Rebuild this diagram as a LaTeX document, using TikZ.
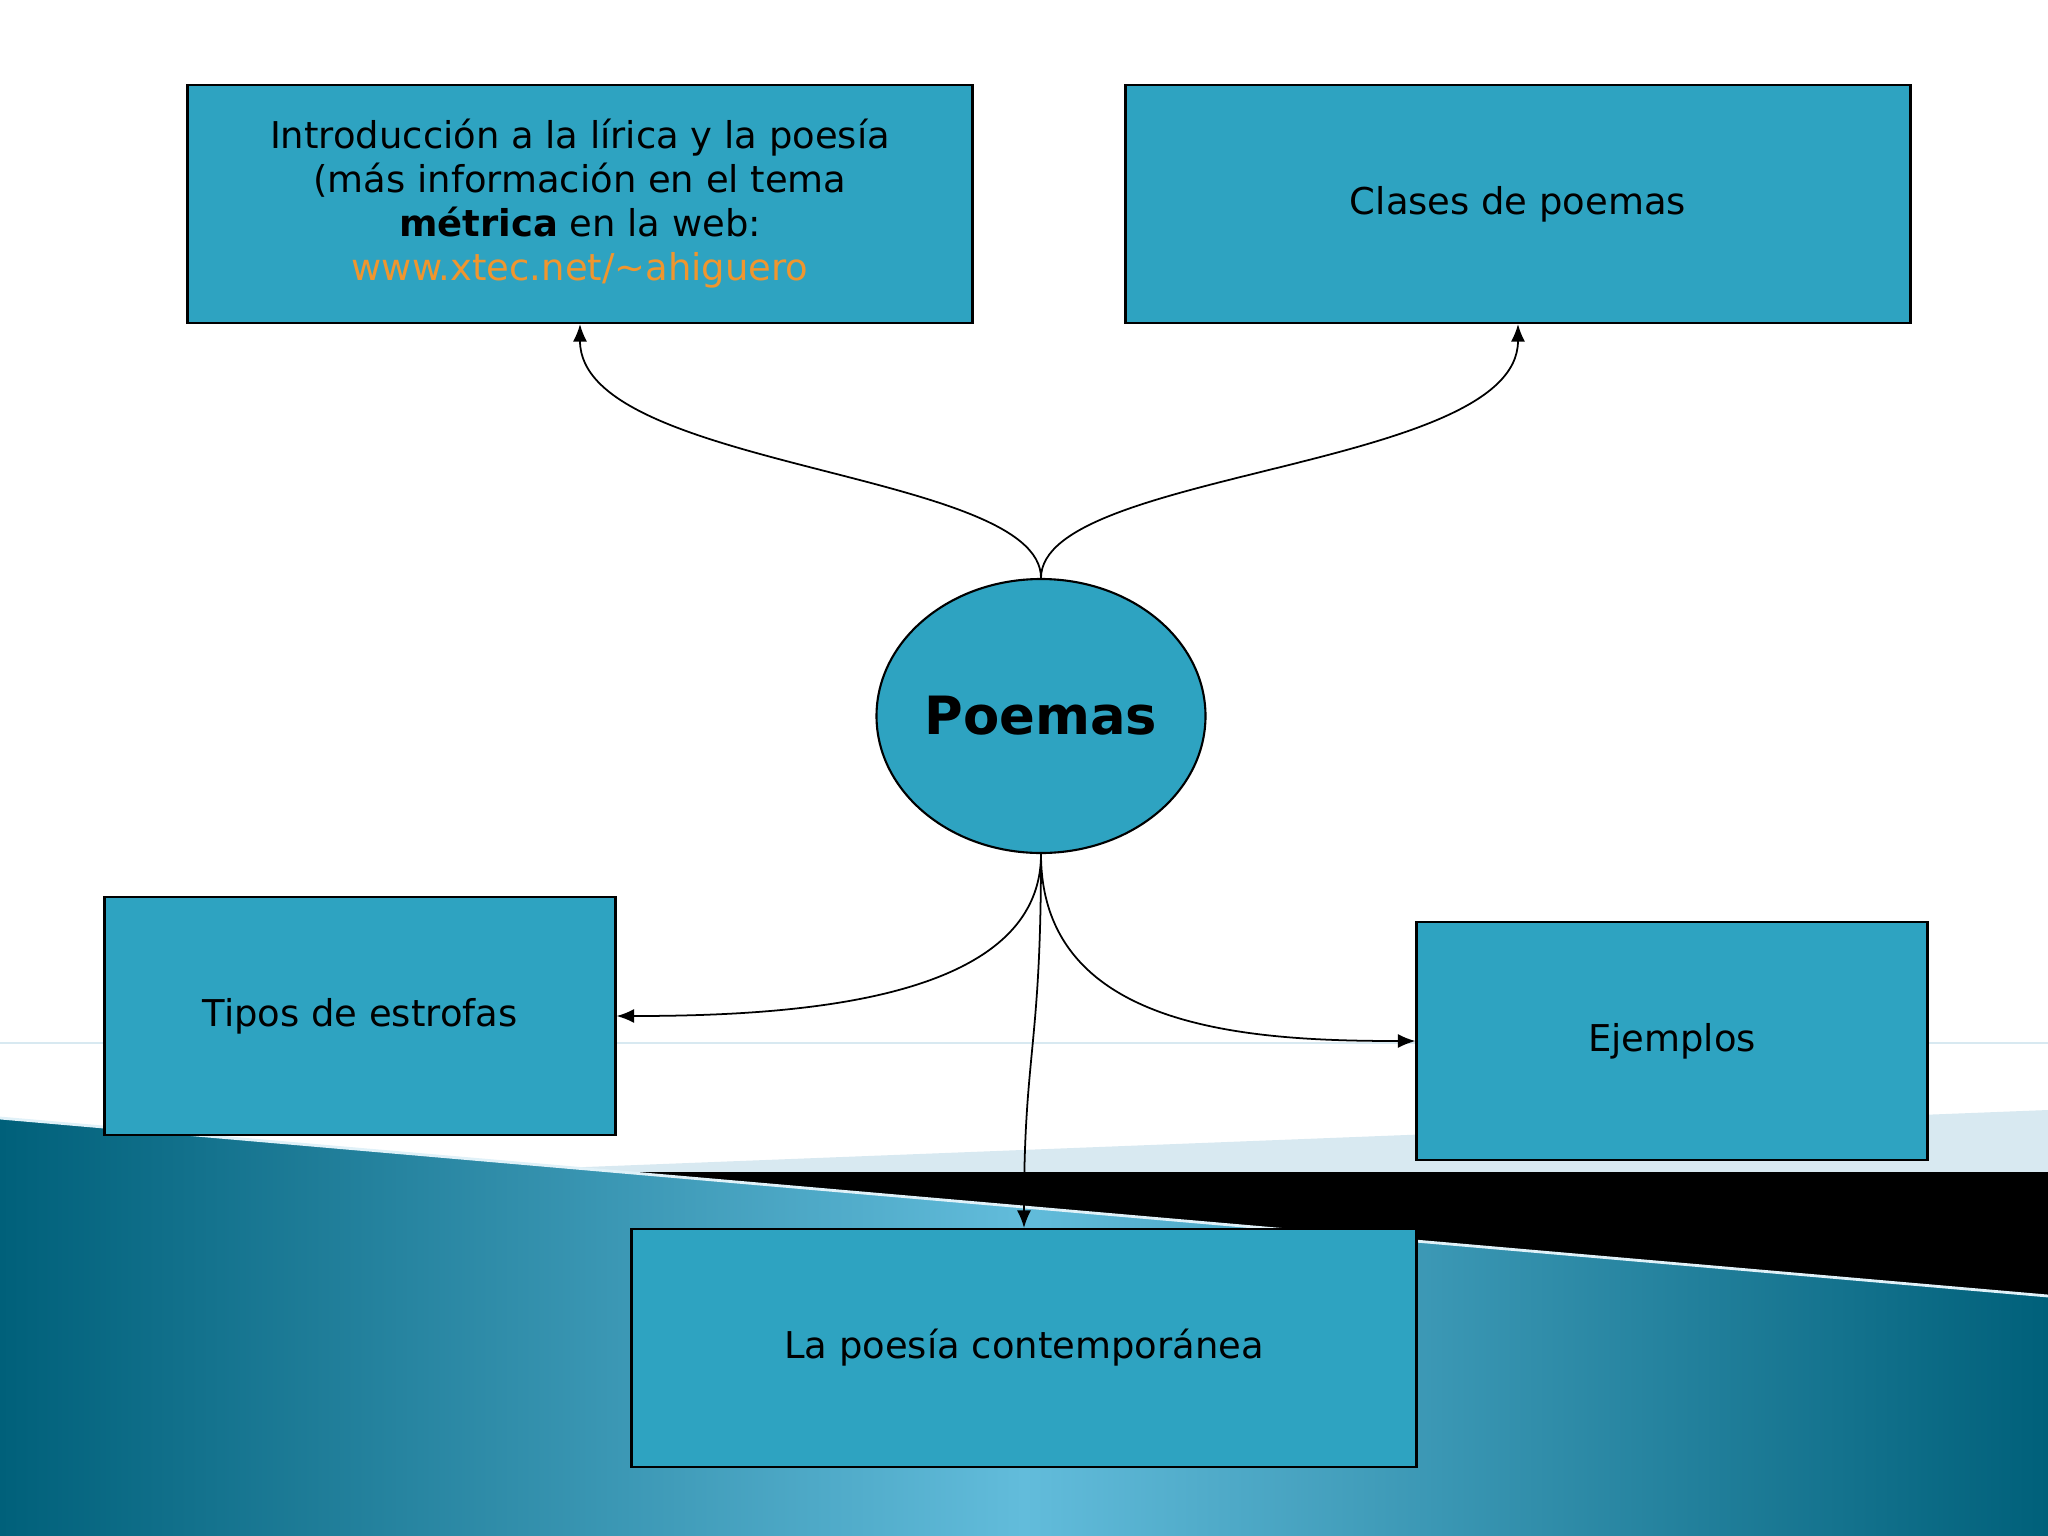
\documentclass[tikz,border=0pt]{standalone}
\usepackage{fontspec}
\setmainfont{DejaVu Sans}
\usetikzlibrary{shapes.geometric,arrows.meta}
\definecolor{boxc}{HTML}{2EA3C1}
\definecolor{urlc}{HTML}{F0962E}
\definecolor{tealD}{HTML}{00607A}
\definecolor{tealL}{HTML}{62BCDB}
\definecolor{bandc}{HTML}{D8E9F1}
\begin{document}
\begin{tikzpicture}[x=0.01cm,y=-0.01cm,
  bx/.style={draw=black,fill=boxc,line width=0.6pt,minimum width=785*0.01cm,minimum height=238*0.01cm,align=center,font=\fontsize{10.5}{12.5}\selectfont,inner sep=0pt},
  sbx/.style={bx,minimum width=511*0.01cm},
  conn/.style={draw=black,line width=0.5pt,-{Latex[length=5pt,width=4pt]}}]
\useasboundingbox (0,0) rectangle (2048,1536);
\fill[white] (0,0) rectangle (2048,1536);
\draw[bandc,line width=0.4pt] (0,1043) -- (2048,1043);
\fill[bandc] (560,1168) -- (2048,1110) -- (2048,1175) -- (560,1175) -- cycle;
\fill[black] (600,1172) -- (2048,1172) -- (2048,1296) -- cycle;
\shade[left color=tealD,right color=tealD,middle color=tealL] (0,1118) -- (2048,1296) -- (2048,1536) -- (0,1536) -- cycle;
\draw[white!80!tealL,line width=0.8pt] (0,1118) -- (2048,1296);
\node[bx] (intro) at (580,204) {Introducción a la lírica y la poesía\\(más información en el tema\\\textbf{métrica} en la web:\\\textcolor{urlc}{www.xtec.net/\textasciitilde ahiguero}};
\node[bx] (clases) at (1518,204) {Clases de poemas};
\node[draw=black,fill=boxc,line width=0.6pt,ellipse,minimum width=308*0.01cm,minimum height=274*0.01cm,inner sep=0pt,font=\fontsize{15}{18}\selectfont\bfseries] (poe) at (1041,716) {Poemas};
\node[sbx] (tipos) at (360,1016) {Tipos de estrofas};
\node[sbx] (ejem) at (1672,1041) {Ejemplos};
\node[bx] (lap) at (1024,1348) {La poesía contemporánea};
\draw[conn] (poe.north) .. controls (1041,470) and (580,470) .. (intro.south);
\draw[conn] (poe.north) .. controls (1041,470) and (1518,470) .. (clases.south);
\draw[conn] (poe.south) .. controls (1041,1000) and (800,1016) .. (tipos.east);
\draw[conn] (poe.south) .. controls (1041,1030) and (1250,1041) .. (ejem.west);
\draw[conn] (poe.south) .. controls (1041,1050) and (1024,1050) .. (lap.north);
\end{tikzpicture}
\end{document}
